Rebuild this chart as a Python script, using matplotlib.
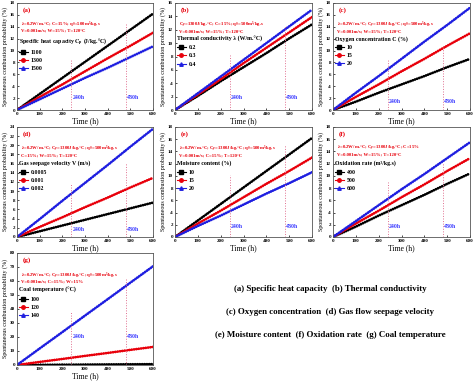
import matplotlib
matplotlib.use("Agg")
import matplotlib.pyplot as plt
from matplotlib.lines import Line2D

plt.rcParams['font.family'] = ['Liberation Serif', 'DejaVu Serif']
plt.rcParams['font.weight'] = 'bold'
plt.rcParams['mathtext.fontset'] = 'stix'

hours = [0, 100, 200, 300, 400, 500, 600]

# (a) specific heat capacity
cp_labels = ['1100', '1300', '1500']
cp_vals = [[0, 2.7, 5.4, 8.1, 10.8, 13.5, 16.2],
           [0, 2.2, 4.3, 6.5, 8.7, 10.8, 13.0],
           [0, 1.8, 3.6, 5.4, 7.1, 8.9, 10.7]]
# (b) thermal conductivity
lam_labels = ['0.2', '0.3', '0.4']
lam_vals = [[0, 2.1, 4.3, 6.4, 8.5, 10.7, 12.8],
            [0, 2.3, 4.6, 7.0, 9.3, 11.6, 13.9],
            [0, 2.5, 5.0, 7.5, 10.0, 12.5, 15.0]]
# (c) oxygen concentration
oxy_labels = ['10', '15', '20']
oxy_vals = [[0, 1.4, 2.9, 4.3, 5.7, 7.2, 8.6],
            [0, 2.2, 4.3, 6.5, 8.6, 10.8, 12.9],
            [0, 2.9, 5.7, 8.6, 11.5, 14.3, 17.2]]
# (d) gas seepage velocity
vel_labels = ['0.0005', '0.001', '0.002']
vel_vals = [[0, 1.25, 2.5, 3.75, 5.0, 6.25, 7.5],
            [0, 2.2, 4.3, 6.5, 8.6, 10.8, 12.9],
            [0, 3.9, 7.9, 11.8, 15.7, 19.7, 23.6]]
# (e) moisture content
moi_labels = ['10', '15', '20']
moi_vals = [[0, 2.7, 5.4, 8.1, 10.8, 13.5, 16.2],
            [0, 2.2, 4.3, 6.5, 8.7, 10.8, 13.0],
            [0, 1.8, 3.5, 5.3, 7.1, 8.8, 10.6]]
# (f) oxidation rate
ox_labels = ['400', '500', '600']
ox_vals = [[0, 1.7, 3.5, 5.2, 6.9, 8.7, 10.4],
           [0, 2.2, 4.3, 6.5, 8.6, 10.8, 12.9],
           [0, 2.6, 5.2, 7.8, 10.3, 12.9, 15.5]]
# (g) coal temperature
tmp_labels = ['100', '120', '140']
tmp_vals = [[0, 0.1, 0.2, 0.3, 0.4, 0.5, 0.6],
            [0, 2.2, 4.3, 6.5, 8.6, 10.8, 12.9],
            [0, 11.8, 23.5, 35.3, 47.0, 58.8, 70.5]]

panels = [
    ('(a)', 'Specific heat capacity $\\mathbf{C_p}$ (J/kg.\u00b0C)', cp_labels, cp_vals,
     '\u03bb=0.2W/m.\u00b0C; C=15%; q$_0$=500m\u00b3/kg.s\nV=0.001m/s; W=15%; T=120\u00b0C', 18),
    ('(b)', 'Thermal conductivity \u03bb (W/m.\u00b0C)', lam_labels, lam_vals,
     'C$_p$=1300J/kg.\u00b0C; C=15%; q$_0$=500m\u00b3/kg.s\nV=0.001m/s; W=15%; T=120\u00b0C', 16),
    ('(c)', 'Oxygen concentration C (%)', oxy_labels, oxy_vals,
     '\u03bb=0.2W/m.\u00b0C; C$_p$=1300J/kg.\u00b0C; q$_0$=500m\u00b3/kg.s\nV=0.001m/s; W=15%; T=120\u00b0C', 18),
    ('(d)', 'Gas seepage velocity V (m/s)', vel_labels, vel_vals,
     '\u03bb=0.2W/m.\u00b0C; C$_p$=1300J/kg.\u00b0C; q$_0$=500m\u00b3/kg.s\nC=15%; W=15%; T=120\u00b0C', 24),
    ('(e)', 'Moisture content (%)', moi_labels, moi_vals,
     '\u03bb=0.2W/m.\u00b0C; C$_p$=1300J/kg.\u00b0C; q$_0$=500m\u00b3/kg.s\nV=0.001m/s; C=15%; T=120\u00b0C', 18),
    ('(f)', 'Oxidation rate (m\u00b3/kg.s)', ox_labels, ox_vals,
     '\u03bb=0.2W/m.\u00b0C; C$_p$=1300J/kg.\u00b0C; C=15%\nV=0.001m/s; W=15%; T=120\u00b0C', 18),
    ('(g)', 'Coal temperature (\u00b0C)', tmp_labels, tmp_vals,
     '\u03bb=0.2W/m.\u00b0C; C$_p$=1300J/kg.\u00b0C; q$_0$=500m\u00b3/kg.s\nV=0.001m/s; C=15%; W=15%', 80),
]

# axes boxes in pixels (left, top, right, bottom) of a 474x382 figure
boxes = [(17, 3, 153, 110), (175, 3, 312, 110), (333, 3, 470, 110),
         (17, 127, 153, 237), (175, 127, 312, 237), (333, 127, 470, 237),
         (17, 253, 153, 365)]
# heights (axes fraction) of the dotted 240h / 480h markers
vtops = [(0.47, 0.81), (0.51, 0.79), (0.47, 0.59), (0.49, 0.67),
         (0.56, 0.84), (0.50, 0.67), (0.47, 0.78)]
txt_y = [0.10, 0.10, 0.07, 0.05, 0.08, 0.08, 0.24]

colors = ['black', '#e8000b', '#1f1fe0']
markers = ['s', 'o', '^']

W, H = 474, 382
fig = plt.figure(figsize=(W / 100, H / 100), dpi=100)

for i, (tag, title, labels, vals, params, ymax) in enumerate(panels):
    l, t, r, b = boxes[i]
    ax = fig.add_axes([l / W, 1 - b / H, (r - l) / W, (b - t) / H])
    handles = []
    for j, y in enumerate(vals):
        # beaded look of the densely marked curves
        ax.plot(hours, y, color=colors[j], lw=2.0, dashes=(0.05, 0.8),
                dash_capstyle='round')
        handles.append(Line2D([], [], color=colors[j], lw=0.8, marker=markers[j], ms=2.5))
    ax.set_xlim(0, 600)
    ax.set_ylim(0, ymax)
    ax.set_xticks(range(0, 601, 100))
    step = 10 if ymax == 80 else 2
    ax.set_yticks(range(0, ymax + 1, step))
    ax.tick_params(direction='in', labelsize=3.6, length=1.5, width=0.5, pad=1.5)
    for s in ax.spines.values():
        s.set_linewidth(0.6)
        s.set_color('#555555')
    ax.set_xlabel('Time (h)', fontsize=5.5, labelpad=1)
    ax.set_ylabel('Spontaneous combustion probability (%)', fontsize=4.3, labelpad=1)

    v1, v2 = vtops[i]
    ax.vlines(240, 0, v1 * ymax, colors='#e07090', linestyles=':', lw=0.7)
    ax.vlines(480, 0, v2 * ymax, colors='#e07090', linestyles=':', lw=0.7)
    ax.text(245, txt_y[i] * ymax, '240h', color='#4040ff', fontsize=4.2)
    ax.text(485, txt_y[i] * ymax, '480h', color='#4040ff', fontsize=4.2)

    ax.text(0.04, 0.96, tag, transform=ax.transAxes, color='#e8000b', fontsize=5, va='top')
    ax.text(0.03, 0.85, params, transform=ax.transAxes, color='#e8000b', fontsize=3.4,
            va='top', linespacing=1.1)
    leg = ax.legend(handles, labels, title=title, loc='upper left',
                    bbox_to_anchor=(0.0, 0.71), frameon=False, fontsize=4.2,
                    title_fontsize=4.2, handlelength=1.6, labelspacing=0.55,
                    borderaxespad=0.2, handletextpad=0.5, borderpad=0.1)
    leg._legend_box.align = 'left'
    leg.get_title().set_fontweight('bold')

summary = ['(a) Specific heat capacity  (b) Thermal conductivity',
           '(c) Oxygen concentration  (d) Gas flow seepage velocity',
           '(e) Moisture content  (f) Oxidation rate  (g) Coal temperature']
for k, line in enumerate(summary):
    fig.text(330 / W, 1 - (289 + 23 * k) / H, line, fontsize=6.4, ha='center', va='center')

fig.savefig('out.png', dpi=100)
